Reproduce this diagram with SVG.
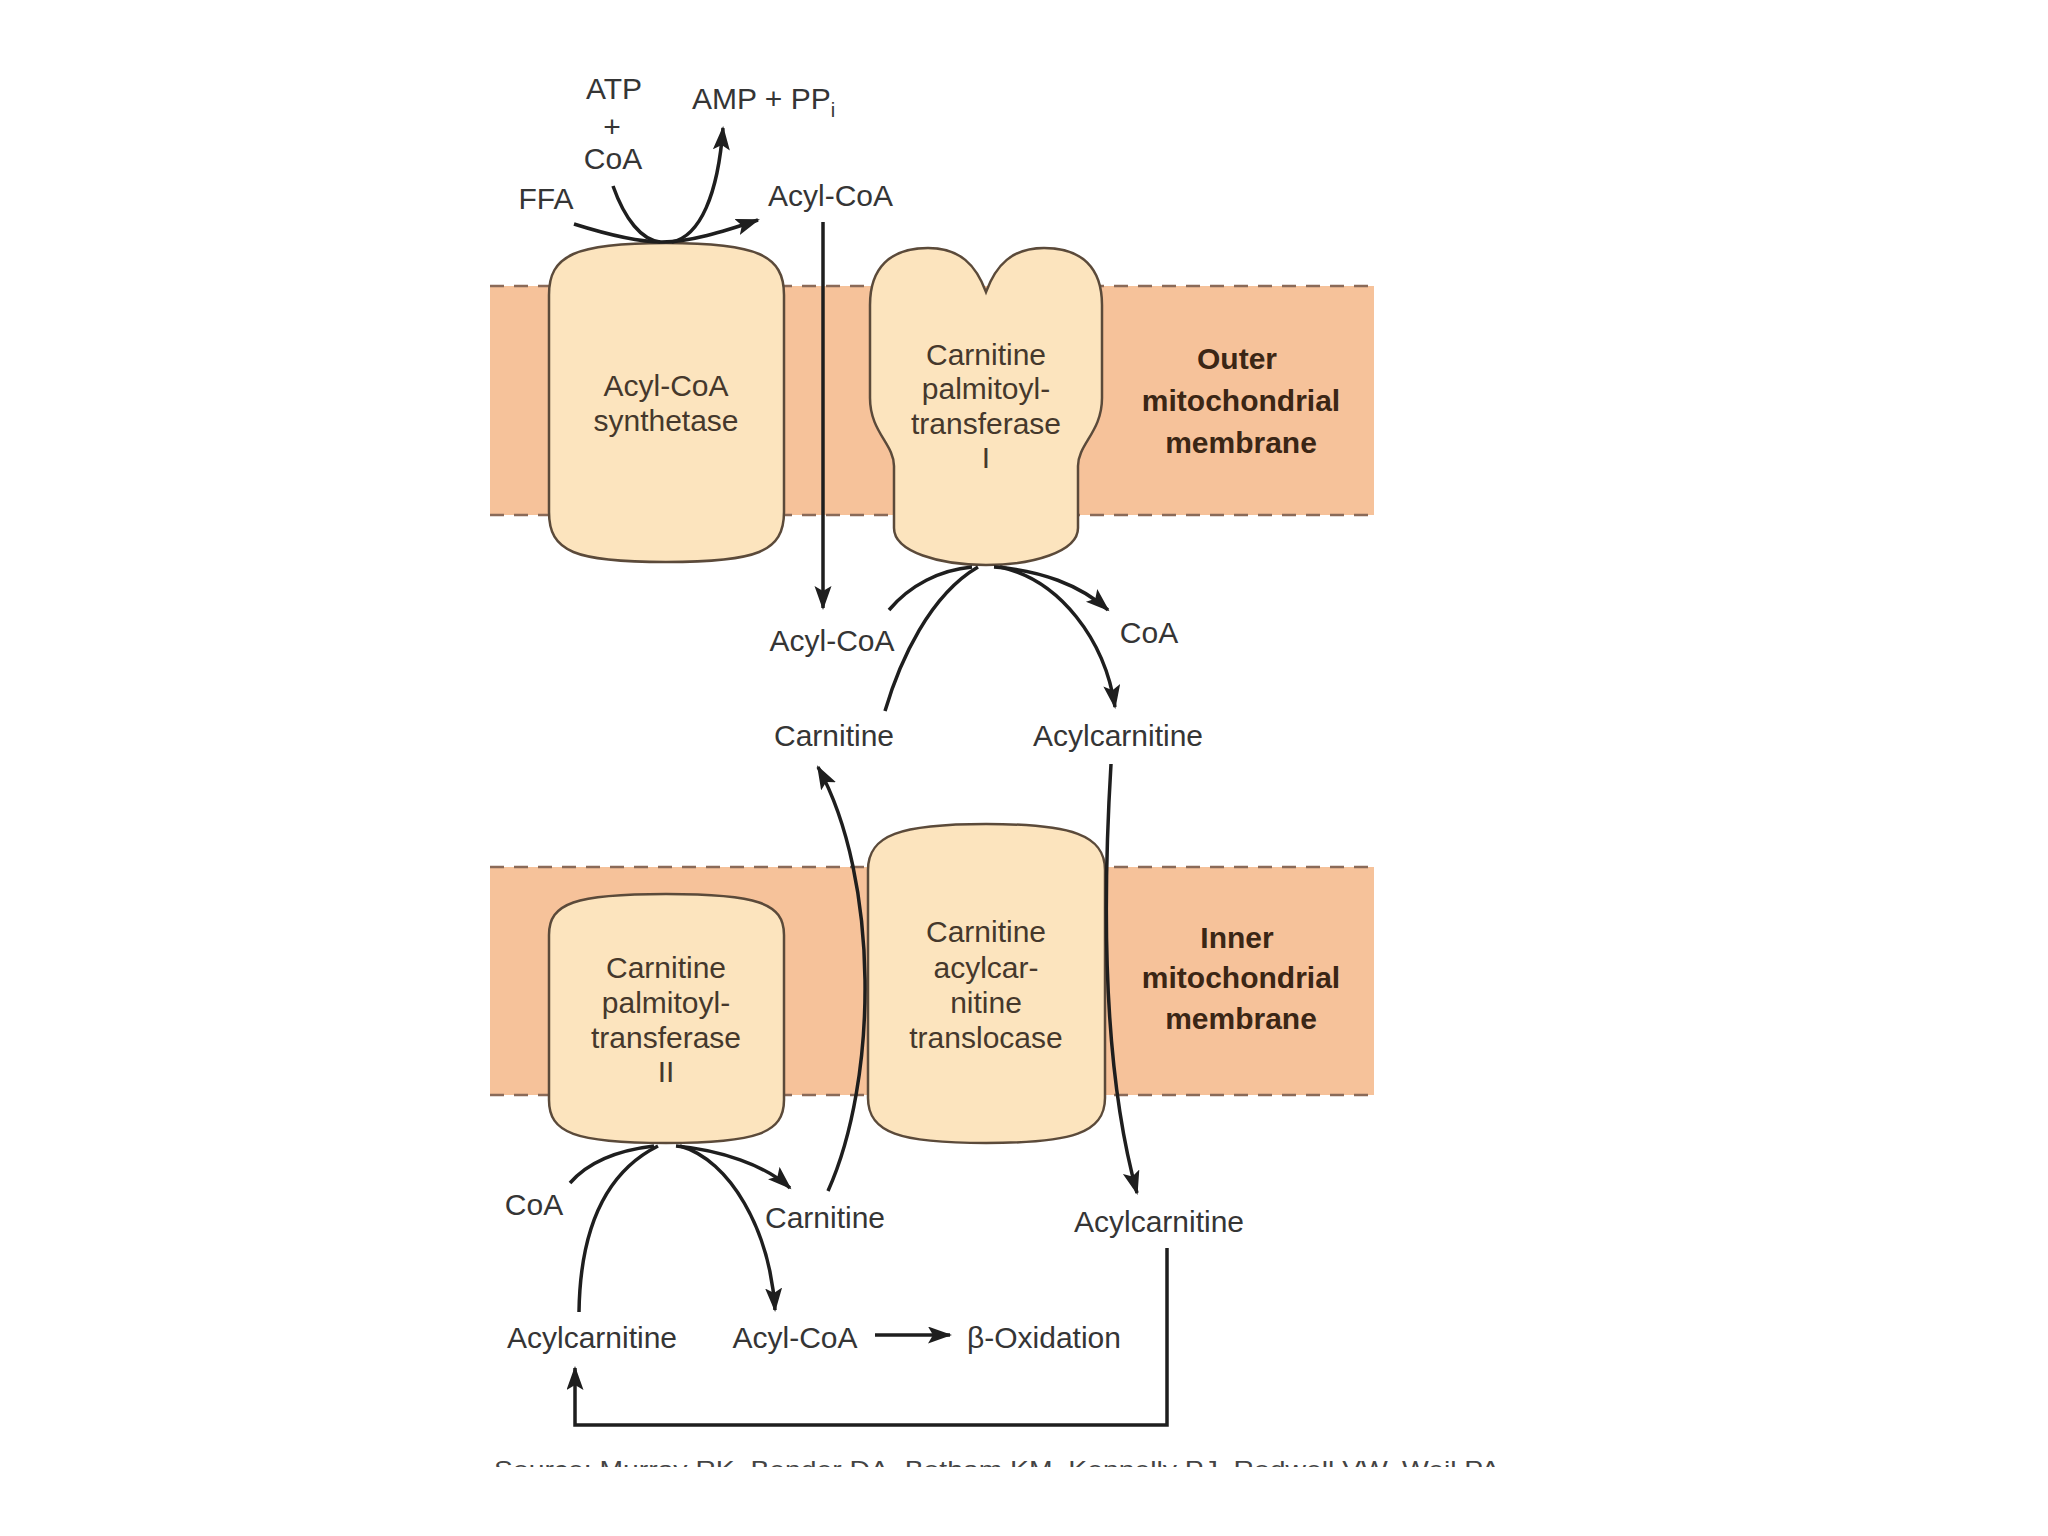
<svg xmlns="http://www.w3.org/2000/svg" width="2048" height="1536" viewBox="0 0 2048 1536">
<defs>
<marker id="ah" markerUnits="userSpaceOnUse" markerWidth="26" markerHeight="18" refX="22" refY="8.5" orient="auto">
<path d="M0,0 L24,8.5 L0,17 L5,8.5 Z" fill="#1e1e1e"/>
</marker>
<clipPath id="cut"><rect x="480" y="1460" width="1100" height="7"/></clipPath>
</defs>
<style>
.band{fill:#F6C29A}
.dash{stroke:#8a6a58;stroke-width:2.5;stroke-dasharray:14 10;fill:none}
.node{fill:#FCE4BE;stroke:#5b4a3a;stroke-width:2.5}
.ln{fill:none;stroke:#1e1e1e;stroke-width:3.5}
.arr{fill:none;stroke:#1e1e1e;stroke-width:3.5;marker-end:url(#ah)}
text{font-family:"Liberation Sans",Arial,sans-serif;font-size:30px;text-anchor:middle}
.lab{fill:#353535}
.nt{fill:#45382c}
.mem{fill:#3b2615;font-weight:bold}
.cite{fill:#444;font-size:24px;text-anchor:start}
</style>
<rect width="2048" height="1536" fill="#ffffff"/>

<g id="outer-membrane">
<rect class="band" x="490" y="286" width="884" height="229"/>
<line class="dash" x1="490" y1="286" x2="1374" y2="286"/>
<line class="dash" x1="490" y1="515" x2="1374" y2="515"/>
<text class="mem" x="1237" y="369">Outer</text>
<text class="mem" x="1241" y="411">mitochondrial</text>
<text class="mem" x="1241" y="453">membrane</text>
</g>

<g id="inner-membrane">
<rect class="band" x="490" y="867" width="884" height="228"/>
<line class="dash" x1="490" y1="867" x2="1374" y2="867"/>
<line class="dash" x1="490" y1="1095" x2="1374" y2="1095"/>
<text class="mem" x="1237" y="948">Inner</text>
<text class="mem" x="1241" y="988">mitochondrial</text>
<text class="mem" x="1241" y="1029">membrane</text>
</g>

<g id="acyl-coa-synthetase">
<path class="node" d="M549,295 C549,255 575,243 666,243 C757,243 784,255 784,295 L784,512 C784,552 757,562 666,562 C575,562 549,552 549,512 Z"/>
<text class="nt" x="666" y="396">Acyl-CoA</text>
<text class="nt" x="666" y="431">synthetase</text>
</g>

<g id="cpt1">
<path class="node" d="M986,292 C976,265 960,248 928,248 C890,248 870,268 870,305 L870,398 C870,432 894,444 894,466 L894,528 C894,552 940,565 986,565 C1032,565 1078,552 1078,528 L1078,466 C1078,444 1102,432 1102,398 L1102,305 C1102,268 1082,248 1044,248 C1012,248 996,265 986,292 Z"/>
<text class="nt" x="986" y="365">Carnitine</text>
<text class="nt" x="986" y="399">palmitoyl-</text>
<text class="nt" x="986" y="434">transferase</text>
<text class="nt" x="986" y="468">I</text>
</g>

<g id="translocase">
<path class="node" d="M868,870 C868,835 900,824 986,824 C1072,824 1105,835 1105,870 L1105,1098 C1105,1133 1072,1143 986,1143 C900,1143 868,1133 868,1098 Z"/>
<text class="nt" x="986" y="942">Carnitine</text>
<text class="nt" x="986" y="978">acylcar-</text>
<text class="nt" x="986" y="1013">nitine</text>
<text class="nt" x="986" y="1048">translocase</text>
</g>

<g id="cpt2">
<path class="node" d="M549,935 C549,903 575,894 666,894 C757,894 784,903 784,935 L784,1100 C784,1133 757,1143 666,1143 C575,1143 549,1133 549,1100 Z"/>
<text class="nt" x="666" y="978">Carnitine</text>
<text class="nt" x="666" y="1013">palmitoyl-</text>
<text class="nt" x="666" y="1048">transferase</text>
<text class="nt" x="666" y="1082">II</text>
</g>

<g id="labels">
<text class="lab" x="614" y="99">ATP</text>
<text class="lab" x="612" y="137">+</text>
<text class="lab" x="613" y="169">CoA</text>
<text class="lab" x="546" y="209">FFA</text>
<text class="lab" x="692" y="109" style="text-anchor:start">AMP + PP<tspan font-size="20" dy="8">i</tspan></text>
<text class="lab" x="768" y="206" style="text-anchor:start">Acyl-CoA</text>
<text class="lab" x="832" y="651">Acyl-CoA</text>
<text class="lab" x="1149" y="643">CoA</text>
<text class="lab" x="834" y="746">Carnitine</text>
<text class="lab" x="1118" y="746">Acylcarnitine</text>
<text class="lab" x="534" y="1215">CoA</text>
<text class="lab" x="825" y="1228">Carnitine</text>
<text class="lab" x="1159" y="1232">Acylcarnitine</text>
<text class="lab" x="592" y="1348">Acylcarnitine</text>
<text class="lab" x="795" y="1348">Acyl-CoA</text>
<text class="lab" x="967" y="1348" style="text-anchor:start">β-Oxidation</text>
</g>

<g id="connectors">
<path class="arr" d="M574,224 C612,236 640,242 662,242 C690,242 722,232 758,220"/>
<path class="ln" d="M613,186 C625,220 642,240 660,242"/>
<path class="arr" d="M672,242 C700,236 718,195 723,128"/>
<path class="arr" d="M823,222 L823,608"/>
<path class="ln" d="M889,610 C910,585 940,570 972,567"/>
<path class="ln" d="M885,711 C900,660 930,595 978,567"/>
<path class="arr" d="M994,567 C1040,570 1080,585 1108,610"/>
<path class="arr" d="M1000,567 C1060,580 1105,640 1115,707"/>
<path class="arr" d="M828,1191 C878,1080 880,880 818,767"/>
<path class="arr" d="M1111,764 C1104,880 1100,1060 1137,1193"/>
<path class="ln" d="M570,1183 C590,1160 620,1150 654,1146"/>
<path class="ln" d="M579,1312 C580,1240 600,1175 658,1146"/>
<path class="arr" d="M676,1146 C720,1150 765,1165 790,1188"/>
<path class="arr" d="M680,1146 C730,1160 770,1230 775,1310"/>
<path class="arr" d="M875,1335 L950,1335"/>
<path class="arr" d="M1167,1248 L1167,1425 L575,1425 L575,1368"/>
</g>

<g id="citation" clip-path="url(#cut)">
<text class="cite" x="494" y="1478" textLength="1006" lengthAdjust="spacingAndGlyphs">Source: Murray RK, Bender DA, Botham KM, Kennelly PJ, Rodwell VW, Weil PA</text>
</g>
</svg>
